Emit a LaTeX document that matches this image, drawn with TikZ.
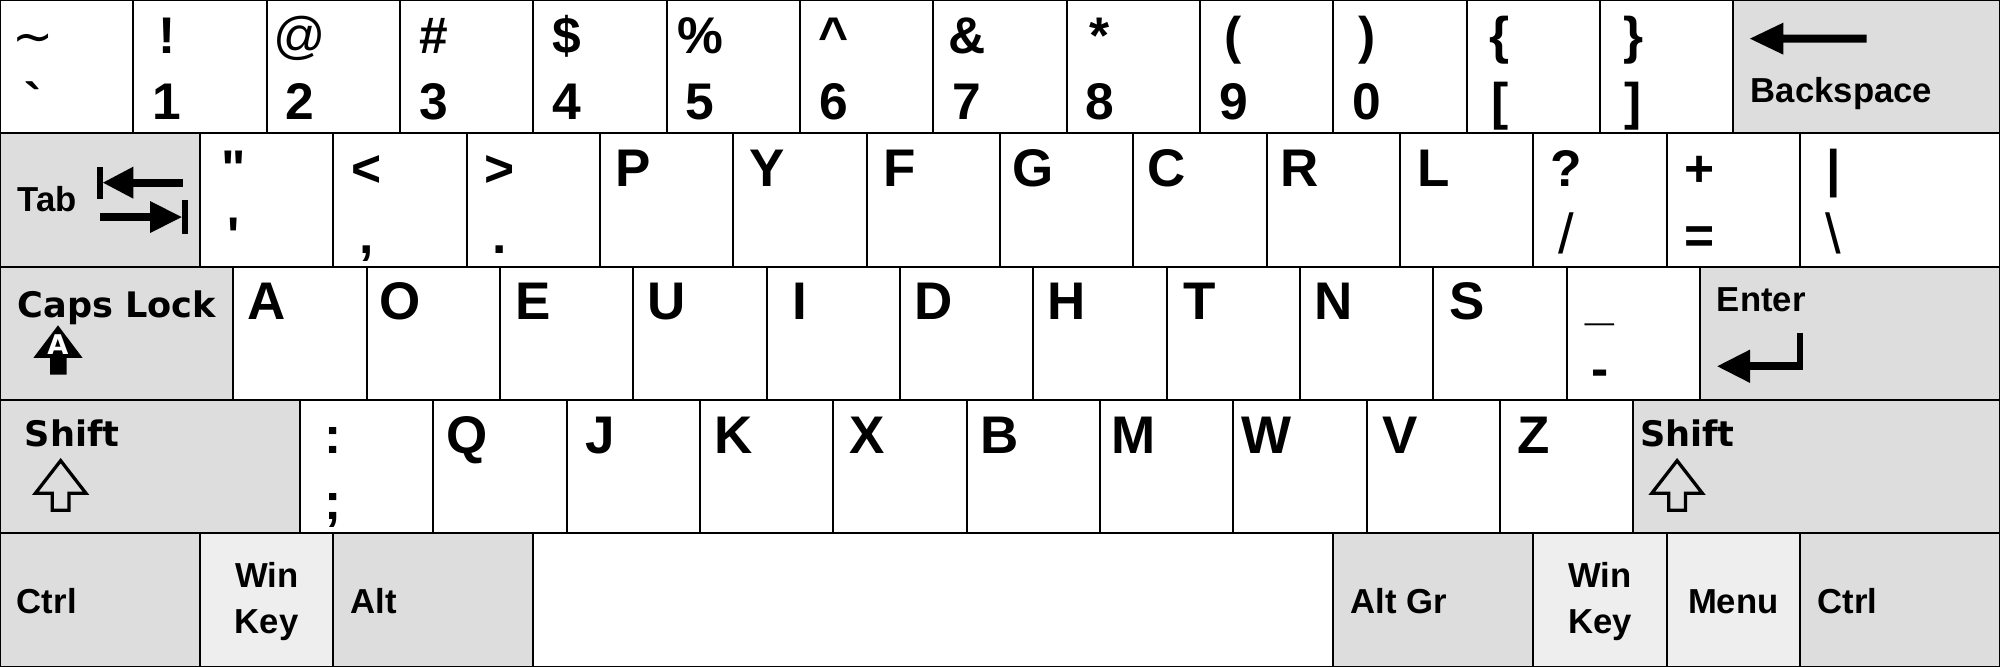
\documentclass[tikz,border=0pt]{standalone}
\usepackage{fontspec}
\newfontfamily\ls{Liberation Sans}
\newfontfamily\dv{DejaVu Sans}
\usetikzlibrary{calc}
\definecolor{modgray}{HTML}{DDDDDD}
\definecolor{wingray}{HTML}{EEEEEE}
\tikzset{
  keybox/.style={draw=black, line width=0.45pt, fill=white, minimum width=1cm, minimum height=1cm, inner sep=0pt, outer sep=0pt, anchor=north west},
  modkey/.style={keybox, fill=modgray},
  winkey/.style={keybox, fill=wingray},
  sym/.style={font=\ls\bfseries\fontsize{11}{13}\selectfont, inner sep=0pt, anchor=base},
  symreg/.style={font=\ls\fontsize{11}{13}\selectfont, inner sep=0pt, anchor=base},
  letr/.style={font=\ls\bfseries\fontsize{11.3}{13}\selectfont, inner sep=0pt, anchor=base},
  lbl/.style={font=\ls\bfseries\fontsize{7.4}{9}\selectfont, inner sep=0pt, anchor=base west},
  dlbl/.style={font=\dv\bfseries\fontsize{7.5}{9}\selectfont, inner sep=0pt, anchor=base west},
  hollow/.style={draw=black, line width=0.7pt, fill=none, line join=miter},
}
\newcommand\kdual[5]{%
  \node[keybox] (#1) at (#2,-#3) {};
  \node[sym] (#1t) at ($(#1.north west)+(0.25,-0.4)$) {#4};
  \node[sym] (#1b) at ($(#1.north west)+(0.25,-0.9)$) {#5};
}
\newcommand\kletter[4]{%
  \node[keybox] (#1) at (#2,-#3) {};
  \node[letr] (#1t) at ($(#1.north west)+(0.25,-0.4)$) {#4};
}
\begin{document}
\begin{tikzpicture}
\useasboundingbox (0,0) rectangle (15,-5);
% ---------- row 1 ----------
\kdual{kgrave}{0}{0}{\dv\mdseries\fontsize{10.5}{12}\selectfont\textasciitilde}{\textasciigrave}
\kdual{kone}{1}{0}{!}{1}
\kdual{ktwo}{2}{0}{\mdseries\fontsize{11}{13}\selectfont @}{2}
\kdual{kthree}{3}{0}{\#}{3}
\kdual{kfour}{4}{0}{\$}{4}
\kdual{kfive}{5}{0}{\%}{5}
\kdual{ksix}{6}{0}{\textasciicircum}{6}
\kdual{kseven}{7}{0}{\&}{7}
\kdual{keight}{8}{0}{*}{8}
\kdual{knine}{9}{0}{(}{9}
\kdual{kzero}{10}{0}{)}{0}
\kdual{klbr}{11}{0}{\{}{[}
\kdual{krbr}{12}{0}{\}}{]}
\node[modkey, minimum width=2cm] (bksp) at (13,0) {};
\node[lbl] (bksplbl) at ($(bksp.north west)+(0.125,-0.77)$) {Backspace};
\fill (13.125,-0.29) -- (13.375,-0.17) -- (13.375,-0.26) -- (14.0,-0.26) -- (14.0,-0.32) -- (13.375,-0.32) -- (13.375,-0.41) -- cycle;
% ---------- row 2 ----------
\node[modkey, minimum width=1.5cm] (tab) at (0,-1) {};
\node[lbl] (tablbl) at ($(tab.north west)+(0.125,-0.59)$) {Tab};
\fill (0.727,-1.25) rectangle (0.773,-1.49);
\fill (0.773,-1.37) -- (1.0,-1.25) -- (1.0,-1.49) -- cycle;
\fill (1.0,-1.34) rectangle (1.375,-1.40);
\fill (0.75,-1.598) rectangle (1.125,-1.658);
\fill (1.125,-1.508) -- (1.363,-1.628) -- (1.125,-1.748) -- cycle;
\fill (1.363,-1.5) rectangle (1.408,-1.755);
\kdual{kquote}{1.5}{1}{"}{'}
\kdual{kcomma}{2.5}{1}{<}{,}
\kdual{kperiod}{3.5}{1}{>}{.}
\kletter{kp}{4.5}{1}{P}
\kletter{ky}{5.5}{1}{Y}
\kletter{kf}{6.5}{1}{F}
\kletter{kg}{7.5}{1}{G}
\kletter{kc}{8.5}{1}{C}
\kletter{kr}{9.5}{1}{R}
\kletter{kl}{10.5}{1}{L}
\kdual{kslash}{11.5}{1}{?}{\mdseries\fontsize{12}{14}\selectfont /}
\kdual{kequal}{12.5}{1}{+}{=}
\node[keybox, minimum width=1.5cm] (kbslash) at (13.5,-1) {};
\node[sym] (kbslasht) at ($(kbslash.north west)+(0.25,-0.4)$) {|};
\node[symreg] (kbslashb) at ($(kbslash.north west)+(0.25,-0.9)$) {\fontsize{12}{14}\selectfont\textbackslash};
% ---------- row 3 ----------
\node[modkey, minimum width=1.75cm] (caps) at (0,-2) {};
\node[dlbl] (capslbl) at ($(caps.north west)+(0.125,-0.38)$) {Caps Lock};
\fill (0.435,-2.44) -- (0.62,-2.685) -- (0.5,-2.685) -- (0.5,-2.81) -- (0.375,-2.81) -- (0.375,-2.685) -- (0.25,-2.685) -- cycle;
\node[font=\dv\bfseries\fontsize{5.8}{7}\selectfont, text=white, inner sep=0pt, anchor=base] (capsA) at (0.435,-2.66) {A};
\kletter{ka}{1.75}{2}{A}
\kletter{ko}{2.75}{2}{O}
\kletter{ke}{3.75}{2}{E}
\kletter{ku}{4.75}{2}{U}
\kletter{ki}{5.75}{2}{I}
\kletter{kd}{6.75}{2}{D}
\kletter{kh}{7.75}{2}{H}
\kletter{kt}{8.75}{2}{T}
\kletter{kn}{9.75}{2}{N}
\kletter{ks}{10.75}{2}{S}
\kdual{kminus}{11.75}{2}{\_}{-}
\node[modkey, minimum width=2.25cm] (enter) at (12.75,-2) {};
\node[lbl] (enterlbl) at ($(enter.north west)+(0.12,-0.34)$) {Enter};
\fill (13.475,-2.5) rectangle (13.523,-2.777);
\fill (13.12,-2.717) rectangle (13.523,-2.777);
\fill (12.88,-2.747) -- (13.125,-2.622) -- (13.125,-2.872) -- cycle;
% ---------- row 4 ----------
\node[modkey, minimum width=2.25cm] (lshift) at (0,-3) {};
\node[dlbl] (lshiftlbl) at ($(lshift.north west)+(0.18,-0.35)$) {Shift};
\kdual{ksemi}{2.25}{3}{:}{;}
\kletter{kq}{3.25}{3}{Q}
\kletter{kj}{4.25}{3}{J}
\kletter{kk}{5.25}{3}{K}
\kletter{kx}{6.25}{3}{X}
\kletter{kb}{7.25}{3}{B}
\kletter{km}{8.25}{3}{M}
\kletter{kw}{9.25}{3}{W}
\kletter{kv}{10.25}{3}{V}
\kletter{kz}{11.25}{3}{Z}
\node[modkey, minimum width=2.75cm] (rshift) at (12.25,-3) {};
\node[dlbl] (rshiftlbl) at ($(rshift.north west)+(0.045,-0.35)$) {Shift};
\foreach \cx in {0.455,12.578}{
  \draw[hollow] (\cx,-3.455) -- (\cx+0.19,-3.70) -- (\cx+0.0625,-3.70) -- (\cx+0.0625,-3.827) -- (\cx-0.0625,-3.827) -- (\cx-0.0625,-3.70) -- (\cx-0.19,-3.70) -- cycle;
}
% ---------- row 5 ----------
\node[modkey, minimum width=1.5cm] (lctrl) at (0,-4) {};
\node[lbl] (lctrllbl) at ($(lctrl.north west)+(0.12,-0.6)$) {Ctrl};
\node[winkey] (lwin) at (1.5,-4) {};
\node[lbl, anchor=base] (lwinA) at ($(lwin.north)+(0,-0.41)$) {Win};
\node[lbl, anchor=base] (lwinB) at ($(lwin.north)+(0,-0.75)$) {Key};
\node[modkey, minimum width=1.5cm] (lalt) at (2.5,-4) {};
\node[lbl] (laltlbl) at ($(lalt.north west)+(0.125,-0.6)$) {Alt};
\node[keybox, minimum width=6cm] (space) at (4,-4) {};
\node[modkey, minimum width=1.5cm] (altgr) at (10,-4) {};
\node[lbl] (altgrlbl) at ($(altgr.north west)+(0.125,-0.6)$) {Alt Gr};
\node[winkey] (rwin) at (11.5,-4) {};
\node[lbl, anchor=base] (rwinA) at ($(rwin.north)+(0,-0.41)$) {Win};
\node[lbl, anchor=base] (rwinB) at ($(rwin.north)+(0,-0.75)$) {Key};
\node[winkey] (menu) at (12.5,-4) {};
\node[lbl, anchor=base] (menulbl) at ($(menu.north)+(0,-0.6)$) {Menu};
\node[modkey, minimum width=1.5cm] (rctrl) at (13.5,-4) {};
\node[lbl] (rctrllbl) at ($(rctrl.north west)+(0.125,-0.6)$) {Ctrl};
\end{tikzpicture}
\end{document}
